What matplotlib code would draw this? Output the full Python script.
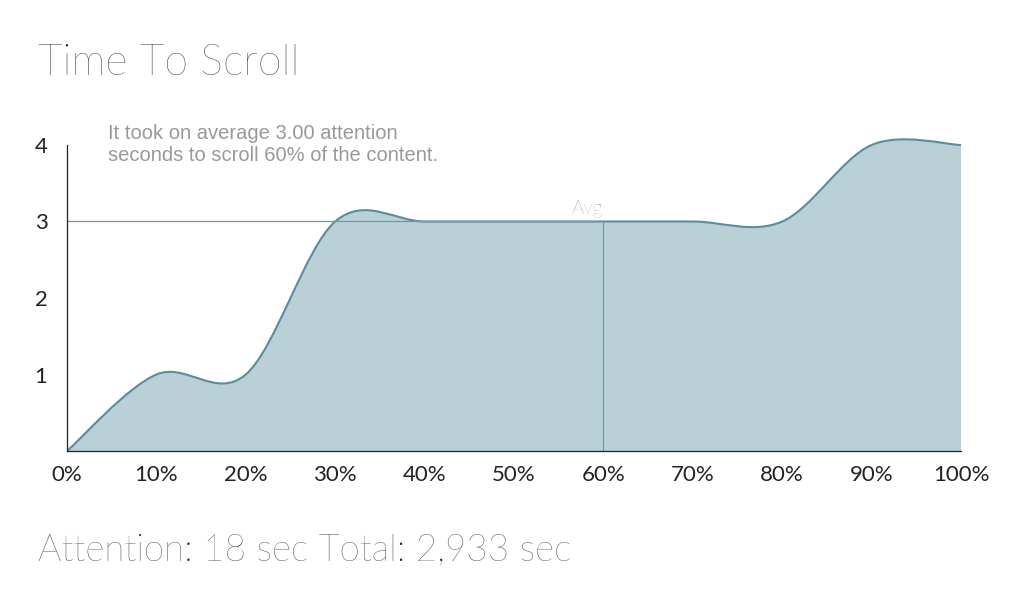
import matplotlib
matplotlib.use("Agg")
import matplotlib.pyplot as plt
from matplotlib.path import Path
from matplotlib.patches import PathPatch

# scroll depth (%) vs attention seconds
depth = [0, 10, 20, 30, 40, 50, 60, 70, 80, 90, 100]
seconds = [0, 1, 1, 3, 3, 3, 3, 3, 3, 4, 4]
avg_depth = 60
avg_value = 3.0
tick_labels = [f"{d}%" for d in depth]

plt.rcParams['font.family'] = ['Lato', 'DejaVu Sans']

fig = plt.figure(figsize=(10.24, 6.04), dpi=100)
ax = fig.add_axes([0.0654, 0.2533, 0.8731, 0.532])

# catmull-rom through the points, drawn as bezier segments
verts = [(depth[0], seconds[0])]
codes = [Path.MOVETO]
n = len(depth)
for i in range(n - 1):
    p0 = (depth[max(i - 1, 0)], seconds[max(i - 1, 0)])
    p1 = (depth[i], seconds[i])
    p2 = (depth[i + 1], seconds[i + 1])
    p3 = (depth[min(i + 2, n - 1)], seconds[min(i + 2, n - 1)])
    c1 = (p1[0] + (p2[0] - p0[0]) / 6, p1[1] + (p2[1] - p0[1]) / 6)
    c2 = (p2[0] - (p3[0] - p1[0]) / 6, p2[1] - (p3[1] - p1[1]) / 6)
    verts += [c1, c2, p2]
    codes += [Path.CURVE4] * 3
line_path = Path(verts, codes)
fill_path = Path(verts + [(depth[-1], 0), (depth[0], 0), (depth[0], 0)],
                 codes + [Path.LINETO, Path.LINETO, Path.CLOSEPOLY])
ax.add_patch(PathPatch(fill_path, facecolor='#b8d0d6', edgecolor='none'))
ax.add_patch(PathPatch(line_path, facecolor='none', edgecolor='#5a8d99', lw=1.5))

ax.plot([0, avg_depth], [avg_value, avg_value], color='#6f9aa5', lw=0.9)
ax.plot([avg_depth, avg_depth], [0, avg_value], color='#6f9aa5', lw=0.9)
ax.text(avg_depth, avg_value + 0.05, "Avg", ha='right', va='bottom',
        color='#888888', fontsize=14, fontweight='light')
ax.text(4.6, 4.0, "It took on average 3.00 attention\nseconds to scroll 60% of the content.",
        ha='left', va='center', color='#999999', fontsize=14.5,
        family=['Liberation Sans', 'DejaVu Sans'], linespacing=1.2)

ax.set_xlim(0, 100)
ax.set_ylim(0, 4.2)
ax.set_xticks(depth)
ax.set_xticklabels(tick_labels)
ax.set_yticks([1, 2, 3, 4])
ax.tick_params(length=0, labelsize=16, colors='#222222', pad=10)
ax.tick_params(axis='y', pad=14)
for s in ['top', 'right']:
    ax.spines[s].set_visible(False)
ax.spines['left'].set_bounds(0, 4)
ax.spines['left'].set_color('#222222')
ax.spines['bottom'].set_color('#222222')
ax.spines['left'].set_linewidth(0.9)
ax.spines['bottom'].set_linewidth(0.9)

fig.text(0.037, 0.895, "Time To Scroll", fontsize=31, color='#222222', va='center',
         fontweight='light')
fig.text(0.037, 0.088, "Attention: 18 sec Total: 2,933 sec", fontsize=26.5,
         color='#222222', va='center', fontweight='light')

fig.savefig("out.png", dpi=100)
